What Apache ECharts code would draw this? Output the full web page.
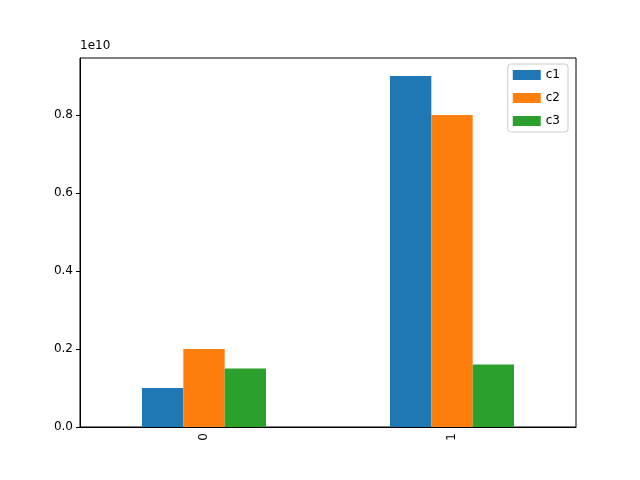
<!DOCTYPE html>
<html><head><meta charset="utf-8">
<script src="https://cdn.jsdelivr.net/npm/echarts@6/dist/echarts.min.js"></script>
<style>html,body{margin:0;padding:0;background:#fff}#c{width:640px;height:480px}</style>
</head><body><div id="c"></div>
<script>
const categories = ['0', '1'];
const c1 = [1.0e9, 9.0e9];
const c2 = [2.0e9, 8.0e9];
const c3 = [1.5e9, 1.6e9];
const seriesNames = ['c1', 'c2', 'c3'];
const colors = ['#1f77b4', '#ff7f0e', '#2ca02c'];
const chart = echarts.init(document.getElementById('c'));
const font = 'DejaVu Sans';
chart.setOption({
  animation: false,
  textStyle: {fontFamily: font},
  grid: {left: 80, right: 64, top: 58, bottom: 53, show: true, borderColor: '#000', borderWidth: 1},
  legend: {
    right: 72, top: 64, orient: 'vertical', itemWidth: 28, itemHeight: 10, itemGap: 11,
    textStyle: {fontFamily: font, fontSize: 12, color: '#000'},
    borderColor: '#ccc', borderWidth: 1, borderRadius: 3, padding: [5, 8, 5, 5],
    icon: 'rect', data: seriesNames
  },
  xAxis: {
    type: 'category', data: categories, boundaryGap: true,
    axisLine: {lineStyle: {color: '#000'}},
    axisTick: {alignWithLabel: true, length: 4, lineStyle: {color: '#000'}},
    axisLabel: {rotate: 90, color: '#000', fontSize: 12, fontFamily: font, margin: 6}
  },
  yAxis: {
    type: 'value', min: 0, max: 0.946e10, interval: 0.2e10,
    splitLine: {show: false},
    axisLine: {show: true, lineStyle: {color: '#000'}},
    axisTick: {show: true, length: 4, lineStyle: {color: '#000'}},
    axisLabel: {showMaxLabel: false, color: '#000', fontSize: 12, fontFamily: font, margin: 7,
      formatter: v => (v / 1e10).toFixed(1)}
  },
  graphic: [{type: 'text', left: 80, top: 40, style: {text: '1e10', font: '12px "DejaVu Sans"', fill: '#000'}}],
  series: [c1, c2, c3].map((d, i) => ({
    name: seriesNames[i], type: 'bar', data: d, barGap: '0%', barCategoryGap: '50%',
    itemStyle: {color: colors[i]}
  }))
});
</script></body></html>
